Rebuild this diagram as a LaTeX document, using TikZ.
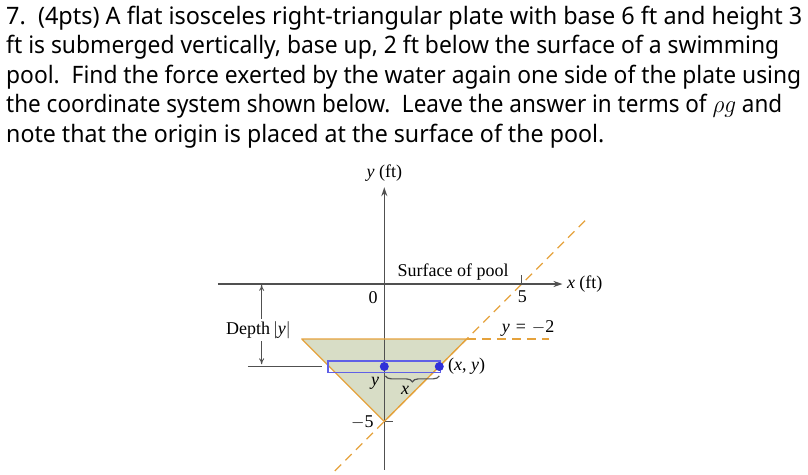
\documentclass[tikz,border=0pt]{standalone}
\usepackage{fontspec}
\setmainfont{Liberation Serif}
\newfontfamily\qfont{Noto Sans}
\usetikzlibrary{arrows.meta,decorations.pathreplacing}
\definecolor{platefill}{RGB}{216,221,198}
\definecolor{edgeorange}{RGB}{229,162,60}
\definecolor{stripblue}{RGB}{96,96,230}
\definecolor{dotblue}{RGB}{48,48,216}
\definecolor{axisgray}{RGB}{80,80,80}
\newcommand{\qtext}[2]{\resizebox{#1}{\height}{#2}}
\tikzset{
  qline/.style={anchor=base west, inner sep=0pt, font=\qfont\fontsize{24}{28}\selectfont},
  lbl/.style={inner sep=1pt, font=\fontsize{18}{20}\selectfont},
  axisline/.style={draw=axisgray, line width=1.2pt},
  dashorange/.style={draw=edgeorange, line width=1.3pt, dash pattern=on 9pt off 6pt},
  dimline/.style={draw=axisgray, line width=0.9pt},
}
\begin{document}
\begin{tikzpicture}[x=1pt,y=1pt]
\useasboundingbox (0,0) rectangle (808,-474);
\node[qline] (l1) at (6,-24) {\qtext{796pt}{7.\ \ (4pts) A flat isosceles right-triangular plate with base 6 ft and height 3}};
\node[qline] (l2) at (6,-53.5) {\qtext{773pt}{ft is submerged vertically, base up, 2 ft below the surface of a swimming}};
\node[qline] (l3) at (6,-83) {\qtext{795pt}{pool.\ \ Find the force exerted by the water again one side of the plate using}};
\node[qline] (l4) at (6,-112.5) {\qtext{776pt}{the coordinate system shown below.\ \ Leave the answer in terms of $\rho g$ and}};
\node[qline] (l5) at (6,-142) {\qtext{598pt}{note that the origin is placed at the surface of the pool.}};

\begin{scope}[shift={(384.3,-284)}, x=27.5pt, y=27.5pt]
  % plate
  \fill[platefill] (-3,-2) -- (3,-2) -- (0,-5) -- cycle;
  % dashed guide lines
  \coordinate (dl1) at (-1.8,-6.8);
  \coordinate (dl2) at (7.35,2.35);
  \draw[dashorange] (dl1) -- (dl2);
  \coordinate (dh1) at (3,-2);
  \coordinate (dh2) at (6,-2);
  \draw[dashorange] (dh1) -- (dh2);
  % axes
  \coordinate (xa1) at (-6.05,0);
  \coordinate (xa2) at (6.48,0);
  \coordinate (ya1) at (0,-6.75);
  \coordinate (ya2) at (0,3.52);
  \draw[axisline, -{Stealth[length=9pt,width=6pt]}] (xa1) -- (xa2);
  \draw[axisline, -{Stealth[length=9pt,width=6pt]}] (ya1) -- (ya2);
  % ticks
  \coordinate (t5a) at (5,0); \coordinate (t5b) at (5,0.32);
  \draw[axisline] (t5a) -- (t5b);
  \coordinate (tm5a) at (0,-5); \coordinate (tm5b) at (0.32,-5);
  \draw[axisline] (tm5a) -- (tm5b);
  % plate edges
  \draw[draw=edgeorange, line width=1.3pt, line join=round] (-3,-2) -- (3,-2) -- (0,-5) -- cycle;
  % strip
  \draw[draw=stripblue, line width=1.2pt] (-2.05,-3.22) rectangle (2.05,-2.8);
  \node[circle, fill=dotblue, inner sep=0pt, minimum size=9pt] (p0) at (0,-3) {};
  \node[circle, fill=dotblue, inner sep=0pt, minimum size=9pt] (pxy) at (2,-3) {};
  % brace
  \coordinate (br1) at (2,-3.34);
  \coordinate (br0) at (0.04,-3.34);
  \draw[draw=axisgray, line width=1.2pt, decorate, decoration={brace, amplitude=6pt}] (br1) -- (br0);
  % depth dimension
  \coordinate (dtop) at (-4.46,-0.03);
  \coordinate (dbot) at (-4.46,-2.92);
  \draw[dimline, {To[length=6pt,width=5pt]}-{To[length=6pt,width=5pt]}] (dtop) -- (dbot);
  \coordinate (hl1) at (-4.96,-3);
  \coordinate (hl2) at (-2.28,-3);
  \draw[axisline] (hl1) -- (hl2);
  \node[lbl, fill=white, inner sep=2pt] (depth) at (-4.58,-1.67) {Depth\,$|\mathit{y}|$};
  % labels
  \node[lbl] (ylab) at (0,4.04) {\textit{y} (ft)};
  \node[lbl, anchor=west] (xlab) at (6.6,0) {\textit{x} (ft)};
  \node[lbl] (surf) at (2.5,0.45) {Surface of pool};
  \node[lbl] (zero) at (-0.41,-0.5) {0};
  \node[lbl] (five) at (5.02,-0.47) {5};
  \node[lbl] (mfive) at (-0.8,-5.04) {$-$5};
  \node[lbl] (yeq) at (5.23,-1.6) {\textit{y}\,\,=\,\,$-$2};
  \node[lbl, anchor=west] (xy) at (2.28,-3) {(\textit{x}, \textit{y})};
  \node[lbl] (ysm) at (-0.33,-3.62) {\textit{y}};
  \node[lbl] (xsm) at (0.76,-3.87) {\textit{x}};
\end{scope}
\end{tikzpicture}
\end{document}
